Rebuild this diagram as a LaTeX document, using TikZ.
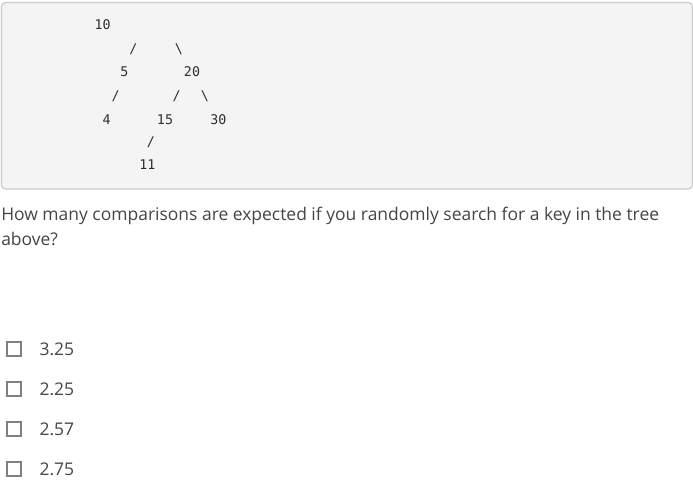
\documentclass[tikz,border=0pt]{standalone}
\usepackage{fontspec}
\setmainfont{Open Sans}
\newfontfamily\codefont{DejaVu Sans Mono}
\definecolor{boxfill}{HTML}{F4F4F4}
\definecolor{boxline}{HTML}{CCCCCC}
\definecolor{codetext}{HTML}{2E2E2E}
\definecolor{bodytext}{HTML}{454545}
\definecolor{chkline}{HTML}{808080}
\begin{document}
\begin{tikzpicture}[x=0.75pt,y=-0.75pt,
  code/.style={font=\codefont\fontsize{10pt}{12pt}\selectfont,text=codetext,inner sep=0pt,anchor=base},
  body/.style={font=\fontsize{13.1pt}{15pt}\selectfont,text=bodytext,inner sep=0pt,anchor=base west},
  chk/.style={draw=chkline,line width=1.1pt,fill=white,minimum width=10.5pt,minimum height=10.5pt,inner sep=0pt}]
\useasboundingbox (0,0) rectangle (693,485);
\fill[white] (0,0) rectangle (693,485);
\draw[boxline,fill=boxfill,line width=0.9pt,rounded corners=3pt] (1.5,2.5) rectangle (692.5,189);
% tree as printed text
\node[code] (n10) at (102.6,30) {10};
\node[code] (s1) at (133.3,53.5) {/};
\node[code] (s2) at (179,53.5) {\textbackslash};
\node[code] (n5) at (124.3,77) {5};
\node[code] (n20) at (192,77) {20};
\node[code] (s3) at (115.7,101) {/};
\node[code] (s4) at (176.7,101) {/};
\node[code] (s5) at (205,101) {\textbackslash};
\node[code] (n4) at (106.7,124) {4};
\node[code] (n15) at (165,124) {15};
\node[code] (n30) at (218.3,124) {30};
\node[code] (s6) at (151,146.5) {/};
\node[code] (n11) at (147.3,170) {11};
% question
\node[body] (q1) at (1,220.7) {How many comparisons are expected if you randomly search for a key in the tree};
\node[body] (q2) at (1,245.7) {above?};
% options
\node[chk] (c1) at (14.2,349) {};
\node[chk] (c2) at (14.2,389) {};
\node[chk] (c3) at (14.2,429) {};
\node[chk] (c4) at (14.2,469) {};
\node[body] (o1) at (39.3,355) {3.25};
\node[body] (o2) at (39.3,395) {2.25};
\node[body] (o3) at (39.3,435) {2.57};
\node[body] (o4) at (39.3,475) {2.75};
\end{tikzpicture}
\end{document}
